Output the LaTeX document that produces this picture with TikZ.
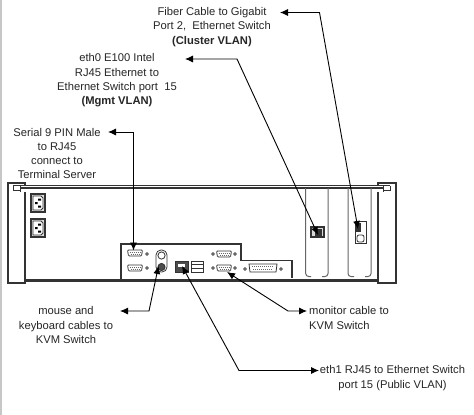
\documentclass[tikz,border=0pt]{standalone}
\usepackage{fontspec}
\setmainfont{Liberation Sans}
\usetikzlibrary{arrows.meta}
\tikzset{
  lbl/.style={inner sep=0pt,align=center,text=black!85,font=\fontsize{11.2}{14.3}\selectfont},
  lblleft/.style={lbl,align=left},
  lead/.style={draw=black,line width=0.9pt,{Latex[length=8pt,width=7pt]}-{Latex[length=8pt,width=7pt]}},
  part/.style={draw=black!80,line width=0.8pt},
  heavy/.style={draw=black!80,line width=1.1pt},
  card/.style={draw=black!60,line width=1pt},
  dsub/.pic={
    \draw[part,fill=white,rounded corners=1pt] (-7.5,-3) -- (7.5,-3) -- (6.5,3) -- (-6.5,3) -- cycle;
    \draw[black!60,line width=0.7pt,dash pattern=on 1pt off 1pt] (-5.5,-1) -- (5.5,-1) (-4.5,1) -- (4.5,1);
  },
  dsubwide/.pic={
    \draw[part,fill=white] (-14,-4) -- (14,-4) -- (13,4) -- (-13,4) -- cycle;
    \draw[black!60,line width=0.7pt,dash pattern=on 1pt off 1pt] (-11,-1.5) -- (11,-1.5) (-10,1.5) -- (10,1.5);
  },
  hole/.pic={\draw[part,line width=0.6pt,fill=white] (0,0) circle (1.4);},
  mains/.pic={
    \draw[heavy,line width=1.3pt,fill=black!12] (-7,-9) rectangle (7,9);
    \draw[part,fill=white] (-5,-7) -- (3,-7) -- (5,-5) -- (5,5) -- (3,7) -- (-5,7) -- cycle;
    \fill[black] (0,-4.5) rectangle (3,-2.5) (-3,-1) rectangle (-0.5,1) (0,2.5) rectangle (3,4.5);
  }
}
\begin{document}
\begin{tikzpicture}[x=1pt,y=-1pt]
\useasboundingbox (0,0) rectangle (474,415);
\fill[white] (0,0) rectangle (474,415);
\fill[black!22] (0,0) rectangle (2,415);

% chassis
\draw[heavy] (13,185.5) -- (390,185.5);
\draw[heavy] (20,188) -- (383,188);
\draw[heavy] (25,281) -- (378,281);
\draw[part,line width=0.6pt] (25,279) -- (378,279);
% ears
\draw[heavy] (25,192) -- (25,283) -- (8,283) -- (8,183) -- (25,183) -- (25,185.5);
\draw[heavy] (378,192) -- (378,283) -- (396,283) -- (396,183) -- (378,183) -- (378,185.5);
\draw[part] (13,185.5) -- (13,190) -- (20,190) -- (20,185.5);
\draw[part] (20,188) -- (20,192);
\draw[part] (383,185.5) -- (383,190) -- (390,190) -- (390,185.5);
\draw[part] (383,188) -- (383,192);

% power sockets
\pic at (38,203) {mains};
\pic at (38,228) {mains};

% I/O panel
\draw[heavy] (121,279) -- (121,244) -- (241,244) -- (241,260.5) -- (292,260.5) -- (292,278);

% I/O connectors
\pic at (135,253) {dsub};
\pic at (147,254) {hole};
\pic at (135,268) {dsub};
\pic at (147,268) {hole};
\pic at (224,254) {dsub};
\pic at (213,254) {hole};
\pic at (235,254) {hole};
\pic at (224,268) {dsub};
\pic at (213,268) {hole};
\pic at (235,268) {hole};
\pic at (263,268) {dsubwide};
\pic at (245,269) {hole};
\pic at (281,269) {hole};

% mouse and keyboard
\draw[part,fill=white,rounded corners=5pt] (156,250) rectangle (167,272);
\draw[part] (161.5,255.5) circle (3.6);
\draw[part,fill=black!70] (161.5,267) circle (3.6);

% eth1 jack and USB
\draw[part,fill=black!70] (175,261) rectangle (188,272);
\fill[white] (178,264) rectangle (185,267);
\draw[part,fill=white] (191,261) rectangle (203,272);
\draw[part] (191,264.5) -- (203,264.5) (191,268) -- (203,268);

% expansion cards
\draw[card,rounded corners=3pt] (305.7,188) -- (305.7,276.5) -- (311,276.5);
\draw[card,rounded corners=3pt] (328,188) -- (328,276.5) -- (322,276.5);
\draw[card,rounded corners=3pt] (348,188) -- (348,276.5) -- (354,276.5);
\draw[card,rounded corners=3pt] (371,188) -- (371,276.5) -- (365,276.5);

% card connectors
\draw[heavy,fill=black!15] (311,227) rectangle (324,237);
\fill[black!80] (315,229) rectangle (322,236);
\draw[part,fill=white] (355,221) rectangle (366,243.5);
\fill[black!80] (356,223) rectangle (361,232);
\draw[part,rounded corners=2pt] (357,235) rectangle (364,242);

% labels
\node[lbl] (fiber) at (212,27) {Fiber Cable to Gigabit\\Port 2,\ \ Ethernet Switch\\\bfseries (Cluster VLAN)};
\node[lbl] (eth0) at (117,80.5) {eth0 E100 Intel\\RJ45 Ethernet to\\Ethernet Switch port\ \ 15\\\bfseries (Mgmt VLAN)};
\node[lbl] (serial) at (57,153.5) {Serial 9 PIN Male\\to RJ45\\connect to\\Terminal Server};
\node[lbl] (mouse) at (66,325) {mouse and\\keyboard cables to\\KVM Switch};
\node[lblleft,anchor=west] (monitor) at (309,318) {monitor cable to\\KVM Switch};
\node[lbl] (eth1) at (392.5,378) {eth1 RJ45 to Ethernet Switch\\port 15 (Public VLAN)};

% leader ends
\coordinate (fiberEnd) at (280,12.5);
\coordinate (fiberBend) at (319.5,12.5);
\coordinate (fiberPort) at (358,229);
\coordinate (eth0End) at (185,59);
\coordinate (eth0Bend) at (237,59);
\coordinate (eth0Port) at (318,235);
\coordinate (serialEnd) at (108,132);
\coordinate (serialBend) at (133.5,132);
\coordinate (serialPort) at (133.5,250.5);
\coordinate (mouseEnd) at (120,311);
\coordinate (mouseBend) at (149,311);
\coordinate (mousePort) at (158.5,266);
\coordinate (monitorEnd) at (307,311);
\coordinate (monitorBend) at (288,311);
\coordinate (monitorPort) at (227,272);
\coordinate (ethOneEnd) at (319,370.5);
\coordinate (ethOneBend) at (239,370.5);
\coordinate (ethOnePort) at (182,266);

% leaders
\draw[lead] (fiberEnd) -- (fiberBend) -- (fiberPort);
\draw[lead] (eth0End) -- (eth0Bend) -- (eth0Port);
\draw[lead] (serialEnd) -- (serialBend) -- (serialPort);
\draw[lead] (mouseEnd) -- (mouseBend) -- (mousePort);
\draw[lead] (monitorEnd) -- (monitorBend) -- (monitorPort);
\draw[lead] (ethOneEnd) -- (ethOneBend) -- (ethOnePort);
\end{tikzpicture}
\end{document}
